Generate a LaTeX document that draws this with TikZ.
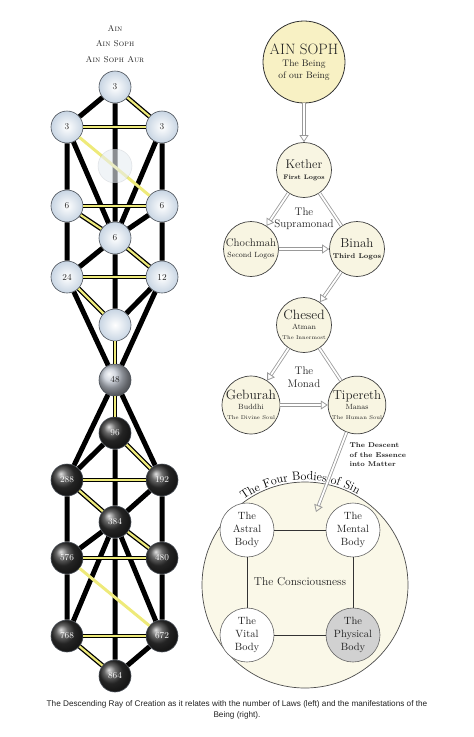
\documentclass[tikz,border=0pt]{standalone}
\usepackage{fontspec}
\usepackage{xcolor}
\usetikzlibrary{arrows.meta, decorations.text}
\newfontfamily\captionfont{Liberation Sans}
\definecolor{bolt}{HTML}{EEEA7A}
\definecolor{pale}{HTML}{C8D5E3}
\definecolor{mid}{HTML}{C4CAD4}
\definecolor{cream}{HTML}{F8F5E2}
\definecolor{soph}{HTML}{F8F1C4}
\definecolor{veil}{HTML}{FAF8E8}
\definecolor{ink}{HTML}{222222}
\definecolor{rim}{HTML}{4A5058}

\begin{document}
\begin{tikzpicture}[x=1pt, y=1pt,
    sphere/.style={circle, draw=rim, line width=0.6pt, minimum size=32pt, inner sep=0pt, font=\fontsize{9}{9}\selectfont},
    upper/.style={sphere, shading=radial, inner color=white, outer color=pale, text=ink},
    lower/.style={sphere, ball color=black!80, text=white!85},
    law/.style={line width=5pt},
    flash/.style={draw=black, line width=1.3pt, double=bolt, double distance=2.2pt},
    glow/.style={draw=bolt, line width=3pt},
    sefira/.style={circle, draw=black!75, line width=0.7pt, fill=cream, minimum size=55pt, inner sep=0pt, align=center, text=ink},
    bond/.style={draw=gray!80, line width=0.8pt, double=white, double distance=1.8pt},
    ray/.style={bond, -{Triangle[open, length=7pt, width=9pt]}},
    body/.style={circle, draw=black!60, line width=0.6pt, fill=white, minimum size=54pt, inner sep=0pt, align=center, text=ink, font=\fontsize{10.5}{13}\selectfont}]

  \useasboundingbox (0,0) rectangle (474,-737);

  % the three veils
  \node[font=\fontsize{8.5}{9}\selectfont\scshape, text=ink] (ain) at (115,-28) {Ain};
  \node[font=\fontsize{8.5}{9}\selectfont\scshape, text=ink] (ainsoph) at (115,-44) {Ain Soph};
  \node[font=\fontsize{8.5}{9}\selectfont\scshape, text=ink] (aur) at (115,-60) {Ain Soph Aur};

  % number of laws
  \node[upper] (n3) at (115,-87) {3};
  \node[upper] (n3l) at (67,-127) {3};
  \node[upper] (n3r) at (162,-127) {3};
  \node[upper] (n6l) at (67,-206) {6};
  \node[upper] (n6r) at (162,-206) {6};
  \node[upper] (n6) at (115,-238) {6};
  \node[upper] (n24) at (67,-277) {24};
  \node[upper] (n12) at (162,-277) {12};
  \node[upper] (n0) at (115,-325) {};
  \node[sphere, ball color=mid, text=ink] (n48) at (115,-380) {48};
  \node[lower] (n96) at (115,-433) {96};
  \node[lower] (n288) at (67,-480) {288};
  \node[lower] (n192) at (162,-480) {192};
  \node[lower] (n384) at (115,-522) {384};
  \node[lower] (n576) at (67,-558) {576};
  \node[lower] (n480) at (162,-558) {480};
  \node[lower] (n768) at (67,-636) {768};
  \node[lower] (n672) at (162,-636) {672};
  \node[lower] (n864) at (115,-676) {864};

  \draw[law] (n3) -- (n3l) (n3) -- (n6) (n3l) -- (n6l) (n3r) -- (n6r) (n3l) -- (n6) (n3r) -- (n6);
  \draw[law] (n6r) -- (n6) (n6l) -- (n24) (n6r) -- (n12) (n6) -- (n24) (n6) -- (n0) (n12) -- (n0);
  \draw[law] (n24) -- (n48) (n12) -- (n48) (n48) -- (n288) (n48) -- (n192) (n96) -- (n288) (n96) -- (n384);
  \draw[law] (n192) -- (n384) (n288) -- (n576) (n192) -- (n480) (n384) -- (n576) (n384) -- (n768);
  \draw[law] (n384) -- (n672) (n384) -- (n864) (n576) -- (n768) (n480) -- (n672) (n672) -- (n864);

  % lightning flash
  \draw[flash] (n3) -- (n3r);
  \draw[flash] (n3r) -- (n3l);
  \draw[glow] (n3l) -- (n6r);
  \draw[flash] (n6r) -- (n6l);
  \draw[flash] (n6l) -- (n6);
  \draw[flash] (n6) -- (n12);
  \draw[flash] (n12) -- (n24);
  \draw[flash] (n24) -- (n0);
  \draw[flash] (n0) -- (n48);
  \draw[flash] (n48) -- (n96);
  \draw[flash] (n96) -- (n192);
  \draw[flash] (n192) -- (n288);
  \draw[flash] (n288) -- (n384);
  \draw[flash] (n384) -- (n480);
  \draw[flash] (n480) -- (n576);
  \draw[glow] (n576) -- (n672);
  \draw[flash] (n672) -- (n768);
  \draw[flash] (n768) -- (n864);

  \node[sphere, fill=pale!45, fill opacity=0.6, draw=rim, draw opacity=0.12, minimum size=34pt] (daath) at (115,-166) {};

  % manifestations of the being
  \node[circle, draw=black!80, line width=0.8pt, fill=soph, minimum size=82pt, inner sep=0pt, align=center, text=ink] (soph) at (304,-62)
    {{\fontsize{15}{16}\selectfont AIN SOPH}\\{\fontsize{9.5}{12}\selectfont The Being}\\{\fontsize{9.5}{12}\selectfont of our Being}};

  \node[sefira] (kether) at (304,-170) {{\fontsize{12.5}{13}\selectfont Kether}\\[-1pt]{\fontsize{6.5}{7}\selectfont\bfseries First Logos}};
  \node[sefira] (chochmah) at (251,-249) {{\fontsize{11}{12}\selectfont Chochmah}\\[-1pt]{\fontsize{7.5}{8}\selectfont Second Logos}};
  \node[sefira] (binah) at (357,-249) {{\fontsize{13}{13}\selectfont Binah}\\[-1pt]{\fontsize{7}{8}\selectfont\bfseries Third Logos}};
  \node[font=\fontsize{11}{12}\selectfont, align=center, text=ink] (supra) at (304,-219) {The\\Supramonad};

  \node[sefira] (chesed) at (304,-325) {{\fontsize{13.5}{13}\selectfont Chesed}\\[-2pt]{\fontsize{7.5}{8}\selectfont Atman}\\[-2pt]{\fontsize{5.5}{6}\selectfont The Innermost}};
  \node[sefira] (geburah) at (251,-405) {{\fontsize{13.5}{13}\selectfont Geburah}\\[-2pt]{\fontsize{7.5}{8}\selectfont Buddhi}\\[-2pt]{\fontsize{5.5}{6}\selectfont The Divine Soul}};
  \node[sefira] (tipereth) at (357,-405) {{\fontsize{13}{13}\selectfont Tipereth}\\[-2pt]{\fontsize{7.5}{8}\selectfont Manas}\\[-2pt]{\fontsize{5.5}{6}\selectfont The Human Soul}};
  \node[font=\fontsize{11}{13}\selectfont, align=center, text=ink] (monad) at (304,-377) {The\\Monad};

  \draw[ray] (soph) -- (kether);
  \draw[ray] (kether) -- (chochmah);
  \draw[bond] (kether) -- (binah);
  \draw[ray] (chochmah) -- (binah);
  \draw[ray] (binah) -- (chesed);
  \draw[ray] (chesed) -- (geburah);
  \draw[bond] (chesed) -- (tipereth);
  \draw[ray] (geburah) -- (tipereth);

  \node[anchor=west, align=left, font=\fontsize{7}{9.5}\selectfont\bfseries, text=ink] (essence) at (346,-455) {The Descent\\of the Essence\\into Matter};

  % the four bodies
  \node[circle, draw=black!70, line width=0.7pt, fill=veil, minimum size=206pt] (sin) at (305,-585) {};
  \path[decorate, decoration={text along path, raise=1pt,
      text={|\fontsize{12}{12}\selectfont|The Four Bodies  of Sin}}]
    (sin.center) ++(126:104) arc[start angle=126, end angle=30, radius=104];

  \coordinate (matter) at (316,-512);
  \draw[ray] (tipereth) -- (matter);

  \node[body] (astral) at (247,-530) {The\\Astral\\Body};
  \node[body] (mental) at (353,-530) {The\\Mental\\Body};
  \node[body] (vital) at (247,-635) {The\\Vital\\Body};
  \node[body, fill=black!18] (physical) at (353,-635) {The\\Physical\\Body};
  \draw[black!80, line width=0.8pt] (astral) -- (mental) -- (physical) -- (vital) -- (astral);
  \node[font=\fontsize{11.5}{12}\selectfont, text=ink] (consciousness) at (300,-582) {The Consciousness};

  \node[font=\captionfont\fontsize{8.2}{10.5}\selectfont, align=center, text=ink] (caption) at (237,-710)
    {The Descending Ray of Creation as it relates with the number of Laws (left) and the manifestations of the\\Being (right).};
\end{tikzpicture}
\end{document}
